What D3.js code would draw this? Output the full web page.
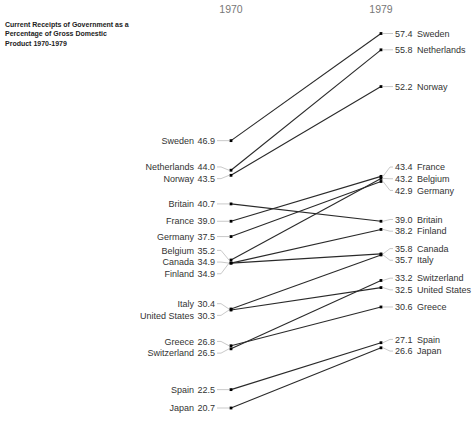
<!DOCTYPE html>
<html>
<head>
<meta charset="utf-8">
<script src="https://cdn.jsdelivr.net/npm/d3@7"></script>
<style>
  html, body { margin: 0; padding: 0; background: #fff; }
  svg { display: block; font-family: "Liberation Sans", Arial, sans-serif; }
</style>
</head>
<body>
<svg id="chart" width="474" height="430"></svg>
<script>
const countries = ["Sweden","Netherlands","Norway","Britain","France","Germany","Belgium","Canada","Finland","Italy","United States","Greece","Switzerland","Spain","Japan"];
const values1970 = [46.9,44.0,43.5,40.7,39.0,37.5,35.2,34.9,34.9,30.4,30.3,26.8,26.5,22.5,20.7];
const values1979 = [57.4,55.8,52.2,39.0,43.4,42.9,43.2,35.8,38.2,35.7,32.5,30.6,33.2,27.1,26.6];
const years = ["1970","1979"];
const titleLines = ["Current Receipts of Government as a","Percentage of Gross Domestic","Product 1970-1979"];

const svg = d3.select("#chart");
const xL = 231, xR = 381;
const y = d3.scaleLinear().domain([20.7, 57.4]).range([408, 33.5]);
const minGap = 11.7;

// label de-cluttering: merge overlapping blocks, centre each block on mean of its targets
function declutter(targets) {
  const idx = targets.map((t, i) => i).sort((a, b) => targets[a] - targets[b]);
  let blocks = [];
  idx.forEach(i => {
    blocks.push({ items: [i], sum: targets[i] });
    let merged = true;
    while (merged && blocks.length > 1) {
      merged = false;
      const b = blocks[blocks.length - 1], a = blocks[blocks.length - 2];
      const aTop = a.sum / a.items.length - (a.items.length - 1) * minGap / 2;
      const aBot = aTop + (a.items.length - 1) * minGap;
      const bTop = b.sum / b.items.length - (b.items.length - 1) * minGap / 2;
      if (bTop - aBot < minGap) {
        blocks.pop(); blocks.pop();
        blocks.push({ items: a.items.concat(b.items), sum: a.sum + b.sum });
        merged = true;
      }
    }
  });
  const pos = new Array(targets.length);
  blocks.forEach(b => {
    const top = b.sum / b.items.length - (b.items.length - 1) * minGap / 2;
    b.items.forEach((i, k) => pos[i] = top + k * minGap);
  });
  return pos;
}

const data = countries.map((c, i) => ({ name: c, a: values1970[i], b: values1979[i] }));
const labL = declutter(data.map(d => y(d.a)));
const labR = declutter(data.map(d => y(d.b)));

// title
svg.append("text").attr("x", 5).attr("y", 26.5)
  .attr("font-size", 7).attr("font-weight", "bold").attr("fill", "#222")
  .selectAll("tspan").data(titleLines).join("tspan")
  .attr("x", 5).attr("dy", (d, i) => i ? 9.7 : 0).text(d => d);

// year headers
svg.selectAll("text.year").data(years).join("text").attr("class", "year")
  .attr("x", (d, i) => i ? xR : xL).attr("y", 13)
  .attr("text-anchor", "middle").attr("font-size", 10.5).attr("fill", "#777")
  .text(d => d);

// slope lines
svg.selectAll("line.slope").data(data).join("line").attr("class", "slope")
  .attr("x1", xL).attr("y1", d => y(d.a)).attr("x2", xR).attr("y2", d => y(d.b))
  .attr("stroke", "#2a2a2a").attr("stroke-width", 1.1);

// leader lines
svg.selectAll("polyline.leadL").data(data).join("polyline").attr("class", "leadL")
  .attr("points", (d, i) => `${217},${labL[i]} ${221},${labL[i]} ${229},${y(d.a)}`)
  .attr("fill", "none").attr("stroke", "#bbb").attr("stroke-width", 0.8);
svg.selectAll("polyline.leadR").data(data).join("polyline").attr("class", "leadR")
  .attr("points", (d, i) => `${383},${y(d.b)} ${390},${labR[i]} ${393},${labR[i]}`)
  .attr("fill", "none").attr("stroke", "#bbb").attr("stroke-width", 0.8);

// points
svg.selectAll("rect.pL").data(data).join("rect").attr("class", "pL")
  .attr("x", xL - 1.4).attr("y", d => y(d.a) - 1.4).attr("width", 2.8).attr("height", 2.8).attr("fill", "#000");
svg.selectAll("rect.pR").data(data).join("rect").attr("class", "pR")
  .attr("x", xR - 1.4).attr("y", d => y(d.b) - 1.4).attr("width", 2.8).attr("height", 2.8).attr("fill", "#000");

// left labels
const fs = 9, col = "#333";
svg.selectAll("text.nameL").data(data).join("text").attr("class", "nameL")
  .attr("x", 194).attr("y", (d, i) => labL[i]).attr("dy", "0.35em")
  .attr("text-anchor", "end").attr("font-size", fs).attr("fill", col).text(d => d.name);
svg.selectAll("text.valL").data(data).join("text").attr("class", "valL")
  .attr("x", 215).attr("y", (d, i) => labL[i]).attr("dy", "0.35em")
  .attr("text-anchor", "end").attr("font-size", fs).attr("fill", col).text(d => d.a.toFixed(1));

// right labels
svg.selectAll("text.valR").data(data).join("text").attr("class", "valR")
  .attr("x", 395).attr("y", (d, i) => labR[i]).attr("dy", "0.35em")
  .attr("font-size", fs).attr("fill", col).text(d => d.b.toFixed(1));
svg.selectAll("text.nameR").data(data).join("text").attr("class", "nameR")
  .attr("x", 417).attr("y", (d, i) => labR[i]).attr("dy", "0.35em")
  .attr("font-size", fs).attr("fill", col).text(d => d.name);
</script>
</body>
</html>
